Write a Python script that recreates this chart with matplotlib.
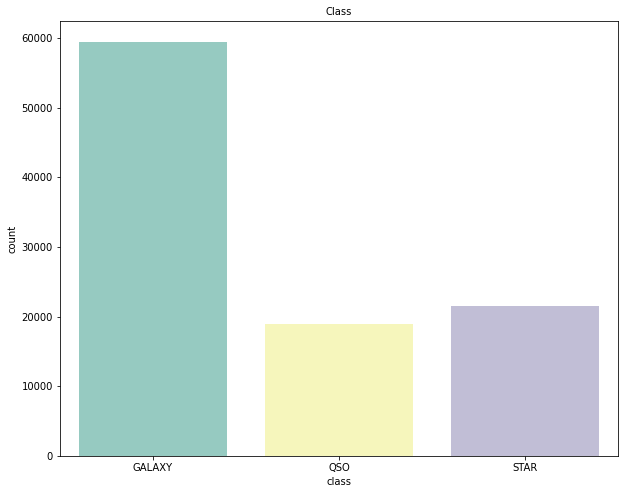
import matplotlib
matplotlib.use('Agg')
import matplotlib.pyplot as plt
import seaborn as sns

classes = ['GALAXY', 'QSO', 'STAR']
counts = [59445, 18961, 21594]

fig = plt.figure(figsize=(624/72, 494/72), dpi=72)
ax = fig.add_axes([60/624, 1-456/494, 558/624, 435/494])
sns.barplot(x=classes, y=counts, hue=classes, palette='Set3', legend=False, ax=ax)
ax.set_title('Class', fontsize=10)
ax.set_xlabel('class', fontsize=10)
ax.set_ylabel('count', fontsize=10)
ax.tick_params(labelsize=10)
fig.savefig('out.png', dpi=72)
